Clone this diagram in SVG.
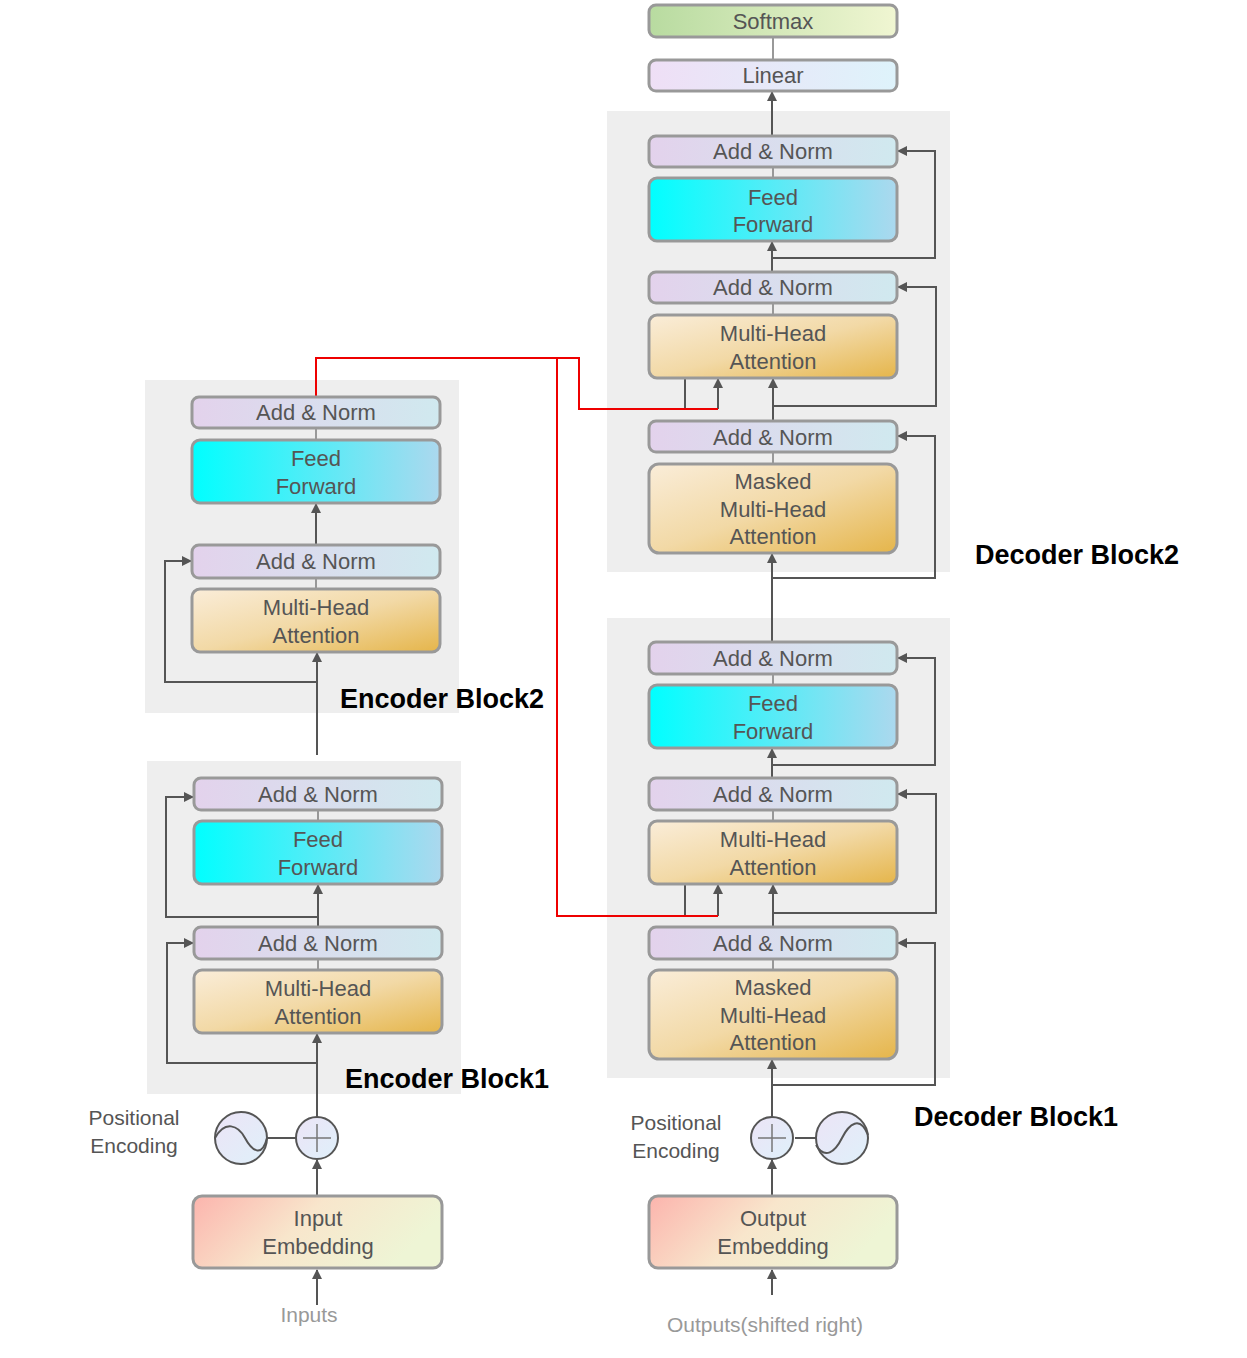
<svg xmlns="http://www.w3.org/2000/svg" width="1247" height="1358" viewBox="0 0 1247 1358">
<defs>
<linearGradient id="gAN" x1="0" y1="0" x2="1" y2="0"><stop offset="0" stop-color="#e3d2ec"/><stop offset="1" stop-color="#d0e9ef"/></linearGradient>
<linearGradient id="gFF" x1="0" y1="0" x2="1" y2="0"><stop offset="0" stop-color="#00ffff"/><stop offset="1" stop-color="#acd8ee"/></linearGradient>
<linearGradient id="gMH" x1="0" y1="0" x2="1" y2="1"><stop offset="0" stop-color="#faedd9"/><stop offset="0.5" stop-color="#f2d9a6"/><stop offset="1" stop-color="#e5b54a"/></linearGradient>
<linearGradient id="gEM" x1="0" y1="0" x2="1" y2="0.3"><stop offset="0" stop-color="#fcb4ad"/><stop offset="0.5" stop-color="#f8e6cc"/><stop offset="1" stop-color="#eef5d5"/></linearGradient>
<linearGradient id="gSM" x1="0" y1="0" x2="1" y2="0"><stop offset="0" stop-color="#b8dba0"/><stop offset="1" stop-color="#f0f6d2"/></linearGradient>
<linearGradient id="gLI" x1="0" y1="0" x2="1" y2="0"><stop offset="0" stop-color="#efdff6"/><stop offset="1" stop-color="#def3fb"/></linearGradient>
<linearGradient id="gC" x1="0" y1="0" x2="1" y2="1"><stop offset="0" stop-color="#ece4f6"/><stop offset="1" stop-color="#dff0fa"/></linearGradient>
<marker id="ar" viewBox="0 0 10 10" refX="9" refY="5" markerWidth="5" markerHeight="5" orient="auto"><path d="M0,0 L10,5 L0,10 z" fill="#555"/></marker>
</defs>
<style>
.bg{fill:#eeeeee}
.b{stroke:#999;stroke-width:3}
.t{font-family:"Liberation Sans",Arial,sans-serif;font-size:22px;fill:#555;text-anchor:middle}
.lb{font-family:"Liberation Sans",Arial,sans-serif;font-size:27px;font-weight:bold;fill:#000;text-anchor:middle}
.pe{font-family:"Liberation Sans",Arial,sans-serif;font-size:21px;fill:#555;text-anchor:middle}
.gt{font-family:"Liberation Sans",Arial,sans-serif;font-size:21px;fill:#999;text-anchor:middle}
.c{fill:none;stroke:#555;stroke-width:2}
.a{fill:none;stroke:#555;stroke-width:2;marker-end:url(#ar)}
.th{fill:none;stroke:#999;stroke-width:2}
.r{fill:none;stroke:#e00;stroke-width:2}
.ra{fill:none;stroke:#555;stroke-width:2;marker-end:url(#ar)}
</style>
<rect class="bg" x="607" y="111" width="343" height="461"/>
<rect class="bg" x="607" y="618" width="343" height="460"/>
<rect class="bg" x="145" y="380" width="314" height="333"/>
<rect class="bg" x="147" y="761" width="314" height="333"/>

<g id="connectors">
<path class="th" d="M773 37V60"/>
<path class="a" d="M772 136V92"/>
<path class="th" d="M773 167V178 M773 303V315 M773 452V464 M773 674V685 M773 810V821 M773 959V970"/>
<path class="a" d="M772 272V242"/>
<path class="a" d="M772 258H935V151H898"/>
<path class="a" d="M773 421V379"/>
<path class="a" d="M773 406H936V287H898"/>
<path class="a" d="M772 612V554"/>
<path class="a" d="M772 578H935V436H898"/>
<path class="c" d="M772 642V598"/>
<path class="a" d="M772 778V749"/>
<path class="a" d="M772 765H935V658H898"/>
<path class="a" d="M773 927V885"/>
<path class="a" d="M773 913H936V794H898"/>
<path class="a" d="M772 1117V1060"/>
<path class="a" d="M772 1085H935V943H898"/>
<path class="a" d="M772 1196V1160"/>
<path class="a" d="M772 1295V1270"/>
<path class="c" d="M795 1138H816"/>
<path class="a" d="M685 409V379 M718 409V379"/>
<path class="a" d="M685 916V885 M718 916V885"/>
<path class="r" d="M316 397V358H579V409H718 M557 358V916H718"/>
<path class="th" d="M316 428V440 M316 578V589 M318 810V821 M318 959V970"/>
<path class="a" d="M316 545V504"/>
<path class="a" d="M317 755V653"/>
<path class="a" d="M317 682H165V561H191"/>
<path class="a" d="M318 927V885"/>
<path class="a" d="M318 917H166V797H193"/>
<path class="a" d="M317 1117V1034"/>
<path class="a" d="M317 1063H167V943H193"/>
<path class="a" d="M317 1196V1160"/>
<path class="a" d="M317 1305V1270"/>
<path class="c" d="M267 1138H296"/>
</g>

<g id="softmax"><rect class="b" x="649" y="5" width="248" height="32" rx="7" fill="url(#gSM)"/><text class="t" x="773" y="29">Softmax</text></g>
<g id="linear"><rect class="b" x="649" y="60" width="248" height="31" rx="7" fill="url(#gLI)"/><text class="t" x="773" y="83">Linear</text></g>

<g id="d2-an3"><rect class="b" x="649" y="136" width="248" height="31" rx="7" fill="url(#gAN)"/><text class="t" x="773" y="159">Add &amp; Norm</text></g>
<g id="d2-ff"><rect class="b" x="649" y="178" width="248" height="63" rx="8" fill="url(#gFF)"/><text class="t" x="773" y="205">Feed</text><text class="t" x="773" y="232">Forward</text></g>
<g id="d2-an2"><rect class="b" x="649" y="272" width="248" height="31" rx="7" fill="url(#gAN)"/><text class="t" x="773" y="295">Add &amp; Norm</text></g>
<g id="d2-mha"><rect class="b" x="649" y="315" width="248" height="63" rx="8" fill="url(#gMH)"/><text class="t" x="773" y="341">Multi-Head</text><text class="t" x="773" y="369">Attention</text></g>
<g id="d2-an1"><rect class="b" x="649" y="421" width="248" height="31" rx="7" fill="url(#gAN)"/><text class="t" x="773" y="445">Add &amp; Norm</text></g>
<g id="d2-mmha"><rect class="b" x="649" y="464" width="248" height="89" rx="10" fill="url(#gMH)"/><text class="t" x="773" y="489">Masked</text><text class="t" x="773" y="517">Multi-Head</text><text class="t" x="773" y="544">Attention</text></g>

<g id="d1-an3"><rect class="b" x="649" y="642" width="248" height="32" rx="7" fill="url(#gAN)"/><text class="t" x="773" y="666">Add &amp; Norm</text></g>
<g id="d1-ff"><rect class="b" x="649" y="685" width="248" height="63" rx="8" fill="url(#gFF)"/><text class="t" x="773" y="711">Feed</text><text class="t" x="773" y="739">Forward</text></g>
<g id="d1-an2"><rect class="b" x="649" y="778" width="248" height="32" rx="7" fill="url(#gAN)"/><text class="t" x="773" y="802">Add &amp; Norm</text></g>
<g id="d1-mha"><rect class="b" x="649" y="821" width="248" height="63" rx="8" fill="url(#gMH)"/><text class="t" x="773" y="847">Multi-Head</text><text class="t" x="773" y="875">Attention</text></g>
<g id="d1-an1"><rect class="b" x="649" y="927" width="248" height="32" rx="7" fill="url(#gAN)"/><text class="t" x="773" y="951">Add &amp; Norm</text></g>
<g id="d1-mmha"><rect class="b" x="649" y="970" width="248" height="89" rx="10" fill="url(#gMH)"/><text class="t" x="773" y="995">Masked</text><text class="t" x="773" y="1023">Multi-Head</text><text class="t" x="773" y="1050">Attention</text></g>

<g id="e2-an2"><rect class="b" x="192" y="397" width="248" height="31" rx="7" fill="url(#gAN)"/><text class="t" x="316" y="420">Add &amp; Norm</text></g>
<g id="e2-ff"><rect class="b" x="192" y="440" width="248" height="63" rx="8" fill="url(#gFF)"/><text class="t" x="316" y="466">Feed</text><text class="t" x="316" y="494">Forward</text></g>
<g id="e2-an1"><rect class="b" x="192" y="545" width="248" height="33" rx="7" fill="url(#gAN)"/><text class="t" x="316" y="569">Add &amp; Norm</text></g>
<g id="e2-mha"><rect class="b" x="192" y="589" width="248" height="63" rx="8" fill="url(#gMH)"/><text class="t" x="316" y="615">Multi-Head</text><text class="t" x="316" y="643">Attention</text></g>

<g id="e1-an2"><rect class="b" x="194" y="778" width="248" height="32" rx="7" fill="url(#gAN)"/><text class="t" x="318" y="802">Add &amp; Norm</text></g>
<g id="e1-ff"><rect class="b" x="194" y="821" width="248" height="63" rx="8" fill="url(#gFF)"/><text class="t" x="318" y="847">Feed</text><text class="t" x="318" y="875">Forward</text></g>
<g id="e1-an1"><rect class="b" x="194" y="927" width="248" height="32" rx="7" fill="url(#gAN)"/><text class="t" x="318" y="951">Add &amp; Norm</text></g>
<g id="e1-mha"><rect class="b" x="194" y="970" width="248" height="63" rx="8" fill="url(#gMH)"/><text class="t" x="318" y="996">Multi-Head</text><text class="t" x="318" y="1024">Attention</text></g>

<g id="input-emb"><rect class="b" x="193" y="1196" width="249" height="72" rx="9" fill="url(#gEM)"/><text class="t" x="318" y="1226">Input</text><text class="t" x="318" y="1254">Embedding</text></g>
<g id="output-emb"><rect class="b" x="649" y="1196" width="248" height="72" rx="9" fill="url(#gEM)"/><text class="t" x="773" y="1226">Output</text><text class="t" x="773" y="1254">Embedding</text></g>

<g id="enc-plus"><circle cx="317" cy="1138" r="21" fill="url(#gC)" stroke="#555" stroke-width="2"/><path d="M303 1138H331M317 1124V1152" stroke="#777" stroke-width="1.5"/></g>
<g id="enc-sine"><circle cx="241" cy="1138" r="26" fill="url(#gC)" stroke="#555" stroke-width="2"/><path d="M215 1138 C225 1120,238 1125,245 1138 S262 1158,267 1138" fill="none" stroke="#555" stroke-width="2"/></g>
<g id="dec-plus"><circle cx="772" cy="1138" r="21" fill="url(#gC)" stroke="#555" stroke-width="2"/><path d="M758 1138H786M772 1124V1152" stroke="#777" stroke-width="1.5"/></g>
<g id="dec-sine"><circle cx="842" cy="1138" r="26" fill="url(#gC)" stroke="#555" stroke-width="2"/><path d="M816 1145 C825 1160,835 1152,842 1138 S860 1115,868 1135" fill="none" stroke="#555" stroke-width="2"/></g>

<g id="labels">
<text class="lb" x="442" y="708">Encoder Block2</text>
<text class="lb" x="447" y="1088">Encoder Block1</text>
<text class="lb" x="1077" y="564">Decoder Block2</text>
<text class="lb" x="1016" y="1126">Decoder Block1</text>
<text class="pe" x="134" y="1125">Positional</text><text class="pe" x="134" y="1153">Encoding</text>
<text class="pe" x="676" y="1130">Positional</text><text class="pe" x="676" y="1158">Encoding</text>
<text class="gt" x="309" y="1322">Inputs</text>
<text class="gt" x="765" y="1332">Outputs(shifted right)</text>
</g>
</svg>
